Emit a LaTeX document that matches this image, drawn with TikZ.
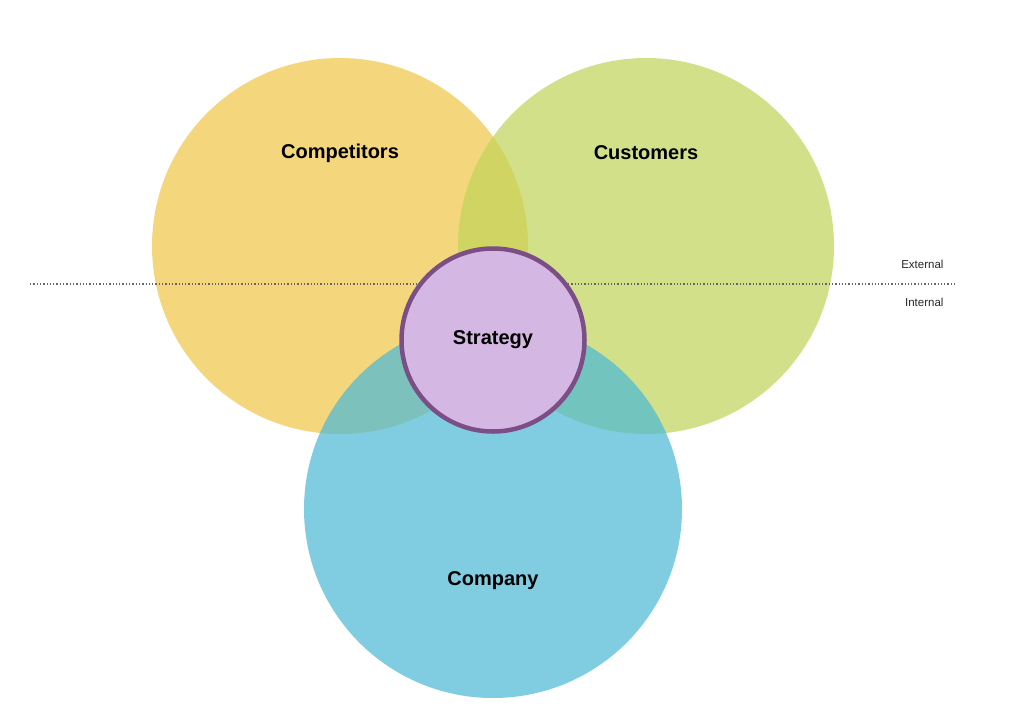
\documentclass[tikz,border=0pt]{standalone}
\usepackage{fontspec}
\setmainfont{Liberation Sans}
\begin{document}
\begin{tikzpicture}[x=1pt,y=-1pt,
  venn/.style={fill opacity=0.7,draw=none},
  lab/.style={font=\bfseries\fontsize{20}{24}\selectfont,text=black},
  side/.style={font=\fontsize{11.5}{14}\selectfont,text=black!85}]
\useasboundingbox (0,0) rectangle (1032,724);
\definecolor{cy}{HTML}{EFC644}
\definecolor{cg}{HTML}{C0D358}
\definecolor{cb}{HTML}{4AB8D6}
\definecolor{sf}{HTML}{D4B8E3}
\definecolor{sd}{HTML}{7B4F86}
\fill[venn,cy] (340,246) circle (188);
\fill[venn,cg] (646,246) circle (188);
\fill[venn,cb] (493,509) circle (189);
\coordinate (l) at (30,284);
\coordinate (r) at (957,284);
\draw[dotted,line width=1.3pt,gray!80!black] (l) -- (r);
\node[circle,minimum size=183,fill=sf,draw=sd,line width=4.5pt,lab] (s) at (493,340) {Strategy};
\node[lab] (comp) at (340,153) {Competitors};
\node[lab] (cust) at (646,153) {Customers};
\node[lab] (co) at (493,581) {Company};
\node[side,anchor=east] (ext) at (947,264) {External};
\node[side,anchor=east] (int) at (947,302) {Internal};
\end{tikzpicture}
\end{document}
